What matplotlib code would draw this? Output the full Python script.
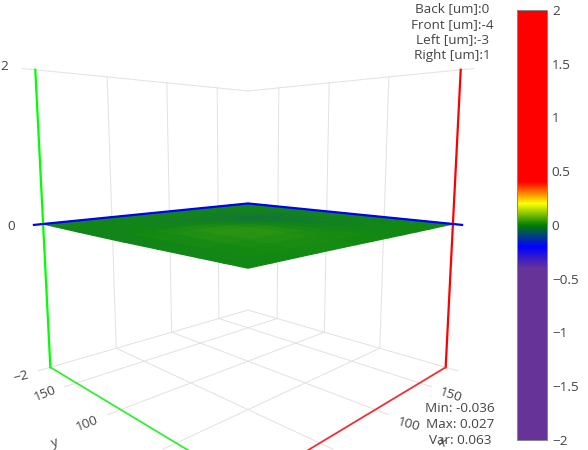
"""Wafer flatness surface: 3D view with coloured edges and a fixed colour bar."""

import numpy as np
import matplotlib

matplotlib.use("Agg")
import matplotlib.pyplot as plt
from matplotlib.cm import ScalarMappable
from matplotlib.colors import LinearSegmentedColormap, Normalize

plt.rcParams["font.family"] = ["Open Sans", "DejaVu Sans"]

WIDTH, HEIGHT = 588, 450
TEXT = "#444444"
GRID = "#e2e2e2"

# surface heights [nm], rows follow y_vals, columns follow x_vals
x_vals = [0, 15, 31, 46, 62, 77, 92, 108, 123, 139, 154, 170, 185]
y_vals = [0, 15, 31, 46, 62, 77, 92, 108, 123, 139, 154, 170, 185]
z_nm = [
    [-2, -1, 0, 1, 1, 1, 0, 0, -1, -1, -1, 0, 0],
    [-3, -1, 1, 3, 4, 4, 2, 0, -2, -2, -2, -1, 0],
    [-4, -1, 3, 8, 11, 9, 5, 1, -3, -5, -4, -2, 0],
    [-5, -1, 5, 13, 19, 15, 6, -1, -6, -9, -7, -3, -1],
    [-6, -1, 7, 18, 27, 20, 7, -4, -12, -14, -10, -5, -2],
    [-7, -2, 8, 17, 22, 16, 4, -7, -16, -18, -12, -6, -2],
    [-8, -3, 6, 12, 14, 8, -2, -12, -22, -22, -14, -6, -2],
    [-8, -5, 2, 5, 4, -3, -10, -28, -36, -26, -15, -7, -3],
    [-7, -6, -3, -5, -14, -14, -16, -28, -32, -26, -14, -6, -3],
    [-6, -7, -7, -8, -11, -13, -15, -18, -22, -18, -10, -5, -2],
    [-4, -6, -7, -8, -9, -10, -10, -11, -12, -10, -7, -4, -2],
    [-2, -3, -5, -5, -6, -6, -6, -6, -6, -5, -4, -2, -1],
    [0, -1, -2, -2, -3, -3, -3, -3, -3, -2, -2, -1, 0],
]

xy_ticks = [50, 100, 150]
xy_max = 185
tick_over = 8
blue_over = 6
z_range = [-2, 2]

# colour scale stops: value, colour
scale_vals = [-2, -0.4, -0.2, 0, 0.2, 0.4, 2]
scale_cols = ["#663399", "#663399", "#0000ff", "#008000", "#ffff00", "#ff0000", "#ff0000"]
bar_ticks = [-2, -1.5, -1, -0.5, 0, 0.5, 1, 1.5, 2]
bar_labels = ["\u22122", "\u22121.5", "\u22121", "\u22120.5", "0", "0.5", "1", "1.5", "2"]

info_top = ["Back [um]:0", "Front [um]:-4", "Left [um]:-3", "Right [um]:1"]
info_bottom = ["Min: -0.036", "Max: 0.027", "Var: 0.063"]


def put_text(fig, px, py, s, **kw):
    """Place text by pixel position, measured from the top left."""
    kw.setdefault("color", TEXT)
    kw.setdefault("fontsize", 9.7)
    fig.text(px / WIDTH, 1 - py / HEIGHT, s, ha="center", va="center", **kw)


fig = plt.figure(figsize=(WIDTH / 100, HEIGHT / 100), dpi=100)

# square 3D axes, centred so the scene centre falls on (248, 224)
side = 540
left = 248 - 0.5135 * side
bottom = 226 - 0.5135 * side
ax = fig.add_axes(
    [left / WIDTH, bottom / HEIGHT, side / WIDTH, side / HEIGHT],
    projection="3d",
    computed_zorder=False,
)
ax.set_axis_off()
ax.set_box_aspect((1, 1, 1.035), zoom=0.913)
ax.set_proj_type("persp", focal_length=0.1913)
ax.view_init(elev=7.85, azim=-135)
ax.set_xlim(0, xy_max, view_margin=0)
ax.set_ylim(0, xy_max, view_margin=0)
ax.set_zlim(z_range[0], z_range[1], view_margin=0)

# wall and floor grid
zlo, zhi = z_range
low = -tick_over
for t in xy_ticks:
    ax.plot([t, t], [xy_max, xy_max], z_range, color=GRID, lw=0.72, zorder=1)
    ax.plot([xy_max, xy_max], [t, t], z_range, color=GRID, lw=0.72, zorder=1)
    ax.plot([t, t], [low, xy_max], [zlo, zlo], color=GRID, lw=0.72, zorder=1)
    ax.plot([low, xy_max], [t, t], [zlo, zlo], color=GRID, lw=0.72, zorder=1)
for z in z_range:
    ax.plot([low, xy_max], [xy_max, xy_max], [z, z], color=GRID, lw=0.72, zorder=1)
    ax.plot([xy_max, xy_max], [low, xy_max], [z, z], color=GRID, lw=0.72, zorder=1)

# surface, coloured on the same scale as the bar
stops = [(v - scale_vals[0]) / (scale_vals[-1] - scale_vals[0]) for v in scale_vals]
cmap = LinearSegmentedColormap.from_list("flatness", list(zip(stops, scale_cols)), N=2048)
norm = Normalize(scale_vals[0], scale_vals[-1])
X, Y = np.meshgrid(x_vals, y_vals)
Z = np.array(z_nm) / 1000
cells = (Z[:-1, :-1] + Z[1:, :-1] + Z[:-1, 1:] + Z[1:, 1:]) / 4
face = cmap(norm(cells))
face[..., :3] = face[..., :3] * 0.92 + 0.08 * np.array([0.9, 0.9, 0.9])
ax.plot_surface(
    X, Y, Z, facecolors=face, rstride=1, cstride=1, shade=False,
    antialiased=True, linewidth=0.9, zorder=2,
)

# coloured edges
ax.plot([0, 0], [xy_max, xy_max], z_range, color="#00ff00", lw=1.6, zorder=3)
ax.plot([0, 0], [xy_max, 0], [zlo, zlo], color="#33ee33", lw=1.3, zorder=3)
ax.plot([xy_max, xy_max], [0, 0], z_range, color="#ff0000", lw=1.6, zorder=3)
ax.plot([xy_max, 0], [0, 0], [zlo, zlo], color="#f03030", lw=1.3, zorder=3)
ax.plot(
    [-blue_over, xy_max, xy_max], [xy_max, xy_max, -blue_over], [0, 0, 0],
    color="#0000ff", lw=1.6, zorder=4,
)

# axis tick labels
put_text(fig, 4, 66, "2")
put_text(fig, 11, 227, "0")
put_text(fig, 21, 377, "\u22122", rotation=15)
put_text(fig, 45, 393, "150", rotation=22)
put_text(fig, 87, 423, "100", rotation=22)
put_text(fig, 55, 443, "y", rotation=20)
put_text(fig, 451, 395, "150", rotation=-18)
put_text(fig, 409, 425, "100", rotation=-15)
put_text(fig, 442, 443, "x", rotation=-15)

# info annotations
for py, s in zip([9, 25, 40, 56], info_top):
    put_text(fig, 452, py, s)
for py, s in zip([409, 425, 441], info_bottom):
    put_text(fig, 460, py, s)

# colour bar
cax = fig.add_axes([517 / WIDTH, 1 - 440 / HEIGHT, 30 / WIDTH, 430 / HEIGHT])
cbar = fig.colorbar(ScalarMappable(norm=norm, cmap=cmap), cax=cax, ticks=bar_ticks)
cbar.set_ticklabels(bar_labels)
cbar.ax.tick_params(length=0, pad=3.5, labelsize=9.7, labelcolor=TEXT)
cbar.outline.set_edgecolor("#888888")
cbar.outline.set_linewidth(0.72)

fig.savefig("out.png", dpi=100)
